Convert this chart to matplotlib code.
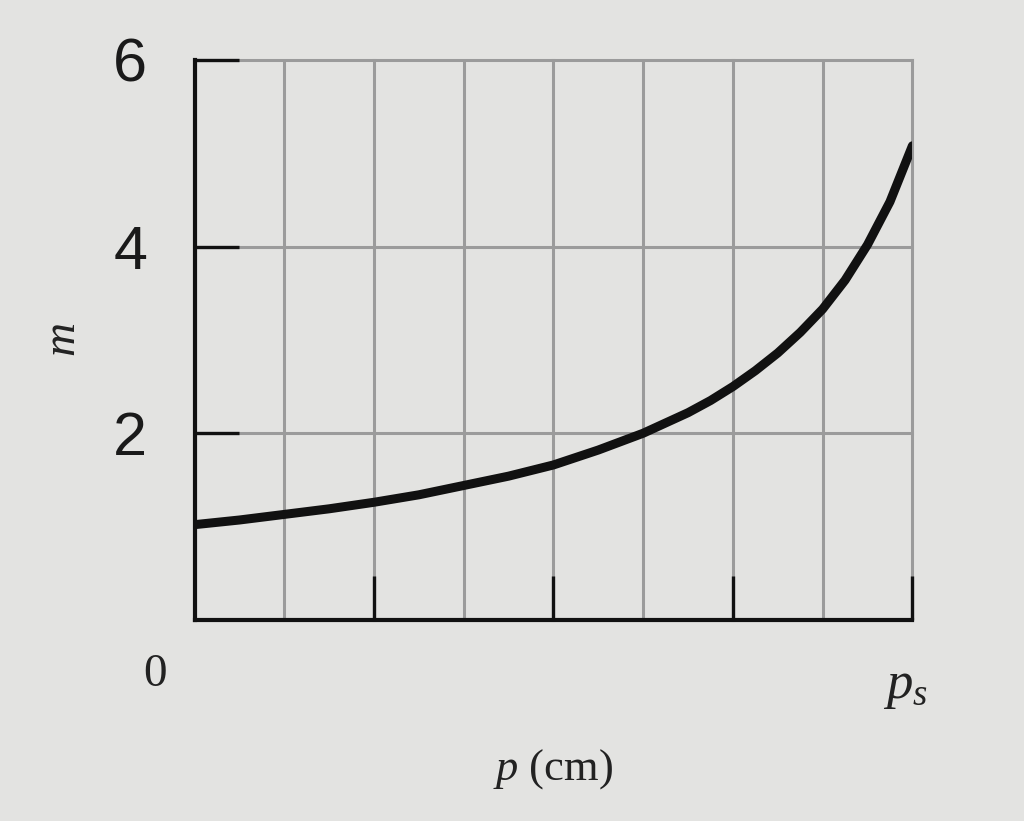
import matplotlib.pyplot as plt
from matplotlib.ticker import MultipleLocator

plt.rcParams["mathtext.fontset"] = "custom"
plt.rcParams["mathtext.rm"] = "Liberation Serif"
plt.rcParams["mathtext.it"] = "Liberation Serif:italic"

# p as a fraction of p_s (read at sixteenths, finer near the steep end)
p_frac = [0, 2 / 32, 4 / 32, 6 / 32, 8 / 32, 10 / 32, 12 / 32, 14 / 32, 16 / 32,
          18 / 32, 20 / 32, 22 / 32, 23 / 32, 24 / 32, 25 / 32, 26 / 32, 27 / 32,
          28 / 32, 29 / 32, 30 / 32, 31 / 32, 1]
m_vals = [1.02, 1.07, 1.13, 1.19, 1.26, 1.34, 1.44, 1.54, 1.66,
          1.82, 2.00, 2.22, 2.35, 2.50, 2.67, 2.86, 3.08,
          3.33, 3.64, 4.02, 4.48, 5.08]
y_ticks = [2, 4, 6]
x_marks = [0.25, 0.5, 0.75, 1.0]

bg = "#e3e3e1"
fig = plt.figure(figsize=(10.24, 8.21), dpi=100, facecolor=bg)
ax = fig.add_axes([0.190, 0.245, 0.701, 0.682], facecolor=bg)

ax.plot(p_frac, m_vals, color="#111111", lw=6.5, solid_capstyle="round", zorder=5)

ax.set_xlim(0, 1)
ax.set_ylim(0, 6)

# grid: eighths across, every 2 up
ax.xaxis.set_minor_locator(MultipleLocator(1 / 8))
ax.set_xticks(x_marks)
ax.set_xticklabels([])
ax.set_yticks(y_ticks)
ax.set_yticklabels([str(t) for t in y_ticks], fontsize=44, family="Liberation Sans",
                   color="#1a1a1a")
ax.grid(True, which="both", axis="x", color="#9b9b9b", lw=2.2)
ax.grid(True, which="major", axis="y", color="#9b9b9b", lw=2.2)
for ln in ax.get_xgridlines() + ax.get_ygridlines():
    ln.set_clip_on(False)

ax.tick_params(axis="x", which="major", direction="in", length=32, width=2.4,
               color="#111111")
ax.tick_params(axis="x", which="minor", length=0)
ax.tick_params(axis="y", direction="in", length=32, width=2.4, color="#111111",
               pad=34)

for side in ["top", "right"]:
    ax.spines[side].set_visible(False)
for side in ["left", "bottom"]:
    ax.spines[side].set_linewidth(3)
    ax.spines[side].set_color("#111111")

serif = "Liberation Serif"
ax.text(-0.055, -0.06, "0", transform=ax.transAxes, ha="center", va="top",
        fontsize=34, family=serif, color="#222222")
ax.text(0.99, -0.07, "$p_s$", transform=ax.transAxes, ha="center", va="top",
        fontsize=38, color="#222222")
ax.set_xlabel("$p$ (cm)", fontsize=32, family=serif, color="#222222", labelpad=88)
ax.set_ylabel("$m$", fontsize=34, color="#222222", labelpad=20)

fig.savefig("out.png", dpi=100, facecolor=bg)
